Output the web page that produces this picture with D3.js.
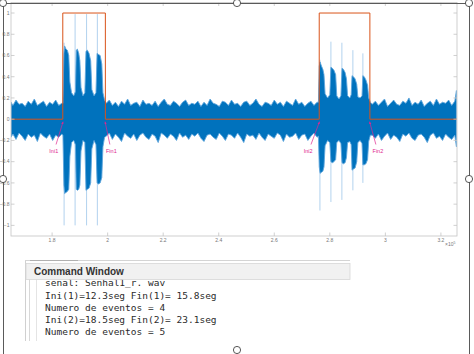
<!DOCTYPE html>
<html><head><meta charset="utf-8">
<script src="https://cdn.jsdelivr.net/npm/d3@7"></script>
<style>html,body{margin:0;padding:0;background:#fff;}svg{display:block;}</style>
</head><body>
<svg id="c" width="474" height="354"></svg>
<script>
// ---- DATA ----
const xTicks = [1.8, 2, 2.2, 2.4, 2.6, 2.8, 3, 3.2];           // x 10^5 samples
const yTicks = [-1, -0.8, -0.6, -0.4, -0.2, 0, 0.2, 0.4, 0.6, 0.8, 1];

// noise before first burst
const noiseAX = [1.652,1.659,1.670,1.681,1.692,1.703,1.714,1.725,1.736,1.747,1.758,1.769,1.780,1.791,1.802,1.813,1.824,1.835];
const noiseATop = [.16,.13,.18,.14,.15,.12,.17,.14,.19,.13,.15,.17,.12,.16,.14,.18,.13,.15];
const noiseABot = [-.17,-.14,-.19,-.13,-.16,-.2,-.14,-.17,-.15,-.21,-.13,-.16,-.18,-.14,-.2,-.15,-.17,-.14];

// burst 1 (4 events)
const burst1X = [1.839,1.8425,1.845,1.850,1.855,1.860,1.864,1.870,1.878,1.884,1.887,1.891,1.896,1.900,1.904,1.911,1.918,1.922,1.927,1.933,1.939,1.943,1.951,1.958,1.962,1.967,1.973,1.979,1.983,1.989];
const burst1Top = [.15,.62,.69,.66,.65,.60,.35,.25,.22,.26,.65,.66,.62,.55,.30,.22,.25,.64,.65,.62,.55,.28,.22,.25,.62,.61,.60,.52,.25,.18];
const burst1Bot = [-.15,-.62,-.70,-.69,-.68,-.66,-.35,-.22,-.20,-.24,-.66,-.67,-.66,-.62,-.30,-.20,-.22,-.67,-.66,-.65,-.60,-.28,-.20,-.24,-.60,-.61,-.60,-.55,-.26,-.17];

// noise between bursts
const noiseBX = [1.995,2.006,2.017,2.028,2.039,2.050,2.061,2.072,2.083,2.094,2.105,2.116,2.127,2.138,2.149,2.160,2.171,2.182,2.193,2.204,2.215,2.226,2.237,2.248,2.259,2.270,2.281,2.292,2.303,2.314,2.325,2.336,2.347,2.358,2.369,2.380,2.391,2.402,2.413,2.424,2.435,2.446,2.457,2.468,2.479,2.490,2.501,2.512,2.523,2.534,2.545,2.556,2.567,2.578,2.589,2.600,2.611,2.622,2.633,2.644,2.655,2.666,2.677,2.688,2.699,2.710,2.721,2.732,2.743,2.754];
const noiseBTop = [.15,.18,.13,.16,.12,.17,.14,.19,.13,.15,.16,.12,.18,.14,.15,.13,.17,.12,.16,.19,.14,.13,.17,.15,.12,.16,.18,.13,.15,.14,.17,.12,.16,.13,.19,.15,.14,.12,.17,.16,.13,.18,.14,.15,.12,.16,.17,.13,.15,.19,.14,.12,.16,.15,.13,.18,.14,.16,.12,.17,.15,.13,.19,.14,.16,.12,.15,.17,.13,.16];
const noiseBBot = [-.16,-.13,-.19,-.14,-.17,-.21,-.13,-.16,-.18,-.14,-.2,-.15,-.13,-.17,-.19,-.14,-.16,-.22,-.13,-.15,-.18,-.14,-.16,-.2,-.13,-.17,-.15,-.19,-.14,-.16,-.13,-.18,-.21,-.15,-.14,-.17,-.19,-.13,-.16,-.2,-.14,-.15,-.18,-.13,-.17,-.22,-.14,-.16,-.15,-.19,-.13,-.17,-.2,-.14,-.16,-.18,-.13,-.15,-.21,-.14,-.17,-.16,-.13,-.19,-.15,-.14,-.2,-.16,-.13,-.17];

// burst 2 (5 events)
const burst2X = [2.759,2.762,2.765,2.770,2.775,2.779,2.783,2.792,2.800,2.804,2.809,2.815,2.821,2.825,2.833,2.840,2.844,2.849,2.855,2.860,2.864,2.872,2.877,2.880,2.885,2.891,2.897,2.901,2.909,2.916,2.919,2.924,2.930,2.936,2.940,2.946];
const burst2Top = [.16,.50,.54,.50,.47,.42,.24,.20,.23,.49,.48,.46,.42,.22,.19,.22,.48,.47,.44,.38,.22,.20,.23,.41,.40,.38,.33,.21,.20,.22,.41,.40,.37,.32,.20,.16];
const burst2Bot = [-.16,-.45,-.51,-.50,-.49,-.45,-.25,-.20,-.22,-.40,-.41,-.40,-.38,-.22,-.20,-.23,-.41,-.42,-.41,-.36,-.22,-.21,-.24,-.48,-.47,-.46,-.40,-.22,-.20,-.23,-.43,-.43,-.42,-.38,-.21,-.15];

// noise after second burst
const noiseCX = [2.953,2.964,2.975,2.986,2.997,3.008,3.019,3.030,3.041,3.052,3.063,3.074,3.085,3.096,3.107,3.118,3.129,3.140,3.151,3.162,3.173,3.184,3.195,3.206,3.217,3.228,3.239,3.250,3.256];
const noiseCTop = [.14,.17,.13,.16,.19,.12,.15,.18,.14,.13,.17,.15,.20,.13,.16,.14,.18,.12,.15,.17,.13,.19,.14,.16,.15,.18,.13,.17,.27];
const noiseCBot = [-.15,-.18,-.14,-.2,-.16,-.13,-.19,-.15,-.17,-.21,-.14,-.16,-.13,-.18,-.2,-.15,-.14,-.17,-.22,-.15,-.13,-.18,-.16,-.2,-.14,-.17,-.19,-.15,-.26];

// thin peaks (few samples)
const spikeX = [1.8432,1.8828,1.9241,1.9630,2.7644,2.8040,2.8435,2.8831,2.9191];
const spikeTop = [.72,.99,.99,.99,.56,.73,.72,.65,.62];
const spikeBot = [-1.0,-1.0,-1.0,-1.0,-.86,-.78,-.76,-.67,-.60];

// detection window (orange)
const winX = [1.652,1.8385,1.8385,1.9918,1.9918,2.7619,2.7619,2.9443,2.9443,3.258];
const winY = [0,0,1,1,0,0,1,1,0,0];

// annotations
const annLabels = ["Ini1","Fin1","Ini2","Fin2"];
const annX = [1.8385,1.9918,2.7619,2.9443];

// command window text
const cmdLines = ["senal: Senhal1_r. wav","Ini(1)=12.3seg Fin(1)= 15.8seg","Numero de eventos = 4","Ini(2)=18.5seg Fin(2)= 23.1seg","Numero de eventos = 5"];

// ---- DRAW ----
const svg = d3.select("#c");
const x = d3.scaleLinear().domain([1.652, 3.258]).range([11, 457]);
const y = d3.scaleLinear().domain([-1.1, 1.1]).range([236, 2.4]);

const sigX = [].concat(noiseAX, burst1X, noiseBX, burst2X, noiseCX);
const sigTop = [].concat(noiseATop, burst1Top, noiseBTop, burst2Top, noiseCTop);
const sigBot = [].concat(noiseABot, burst1Bot, noiseBBot, burst2Bot, noiseCBot);
const idx = d3.range(sigX.length);

const plot = svg.append("g");
plot.append("defs").append("clipPath").attr("id","clip")
  .append("rect").attr("x",11).attr("y",2.4).attr("width",446).attr("height",233.6);
const pg = plot.append("g").attr("clip-path","url(#clip)");

// thin spikes (light)
pg.selectAll("line.spk").data(spikeX).join("line")
  .attr("x1", d=>x(d)).attr("x2", d=>x(d))
  .attr("y1", (d,i)=>y(spikeTop[i])).attr("y2", (d,i)=>y(spikeBot[i]))
  .attr("stroke","#a9cdec").attr("stroke-width",0.9);

const area = d3.area().x(i=>x(sigX[i])).y0(i=>y(sigBot[i])).y1(i=>y(sigTop[i]));
pg.append("path").attr("d", area(idx))
  .attr("fill","#0072BD").attr("stroke","#5fa6dc").attr("stroke-width",0.9);

// window line
const wl = d3.line().x(i=>x(winX[i])).y(i=>y(winY[i]));
pg.append("path").attr("d", wl(d3.range(winX.length)))
  .attr("fill","none").attr("stroke","#D95319").attr("stroke-width",1);

// axes box
const axc = "#c4c4c4";
plot.append("rect").attr("x",11).attr("y",2.4).attr("width",446).attr("height",233.6)
  .attr("fill","none").attr("stroke",axc).attr("stroke-width",0.8);
const tk = plot.append("g").attr("stroke",axc).attr("stroke-width",0.8);
xTicks.forEach(t=>{
  tk.append("line").attr("x1",x(t)).attr("x2",x(t)).attr("y1",236).attr("y2",232.5);
  tk.append("line").attr("x1",x(t)).attr("x2",x(t)).attr("y1",2.4).attr("y2",6);
});
yTicks.forEach(t=>{
  tk.append("line").attr("x1",11).attr("x2",14.5).attr("y1",y(t)).attr("y2",y(t));
  tk.append("line").attr("x1",457).attr("x2",453.5).attr("y1",y(t)).attr("y2",y(t));
});
const lab = plot.append("g").attr("font-family","Liberation Sans, Arial, sans-serif").attr("font-size",5).attr("fill","#777");
lab.selectAll("text.xt").data(xTicks).join("text")
  .attr("x",d=>x(d)).attr("y",242).attr("text-anchor","middle").text(d=>d3.format("~g")(d));
lab.selectAll("text.yt").data(yTicks).join("text")
  .attr("x",9.5).attr("y",d=>y(d)+1.8).attr("text-anchor","end").text(d=>d3.format("~g")(d));
const ex = lab.append("text").attr("x",445).attr("y",246);
ex.append("tspan").text("\u00d710");
ex.append("tspan").attr("dy",-2).attr("font-size",3.5).text("5");

// annotations
svg.append("defs").append("marker").attr("id","ah").attr("viewBox","0 0 10 10")
  .attr("refX",9).attr("refY",5).attr("markerWidth",4).attr("markerHeight",4).attr("orient","auto")
  .append("path").attr("d","M0,1L10,5L0,9Z").attr("fill","#e0268f");
const annDx = [-9, 6, -11, 8];
annLabels.forEach((l,i)=>{
  const tx = x(annX[i]);
  svg.append("line").attr("x1",tx+annDx[i]*0.75).attr("y1",144.5)
    .attr("x2",tx - Math.sign(annDx[i])*0.3).attr("y2",y(0)+2.5)
    .attr("stroke","#e0268f").attr("stroke-width",0.7).attr("marker-end","url(#ah)");
  svg.append("text").attr("x",tx+annDx[i]).attr("y",152.5).attr("text-anchor","middle")
    .attr("font-family","Liberation Sans, Arial, sans-serif").attr("font-size",5.5)
    .attr("fill","#e0268f").text(l);
});

// command window
const cw = svg.append("g");
cw.append("line").attr("x1",25).attr("x2",350).attr("y1",260.5).attr("y2",260.5).attr("stroke","#d4d4d4");
cw.append("line").attr("x1",30).attr("x2",78).attr("y1",260.5).attr("y2",260.5).attr("stroke","#b0b0b0");
cw.append("line").attr("x1",25.5).attr("x2",25.5).attr("y1",261).attr("y2",341).attr("stroke","#d0d0d0");
cw.append("line").attr("x1",29.5).attr("x2",29.5).attr("y1",278).attr("y2",341).attr("stroke","#d8d8d8");
cw.append("line").attr("x1",36.5).attr("x2",36.5).attr("y1",278).attr("y2",341).attr("stroke","#e4e4e4");
cw.selectAll("text.cl").data(cmdLines).join("text")
  .attr("x",45).attr("y",(d,i)=>286 + (i ? 13 + (i-1)*12 : 0)).attr("font-family","DejaVu Sans Mono, monospace")
  .attr("font-size",9.5).attr("fill","#2a2a2a").text(d=>d);
cw.append("rect").attr("x",26).attr("y",263.5).attr("width",324).attr("height",16)
  .attr("fill","#f1f1f1").attr("stroke","#d6d6d6").attr("stroke-width",0.8);
cw.append("text").attr("x",34).attr("y",274.5).attr("font-family","Liberation Sans, Arial, sans-serif")
  .attr("font-weight","bold").attr("font-size",10).attr("fill","#333").text("Command Window");

// picture frame + selection handles
const fr = svg.append("g").attr("stroke","#5a5a5a").attr("stroke-width",1).attr("fill","none");
fr.append("line").attr("x1",3.5).attr("x2",3.5).attr("y1",0).attr("y2",354);
fr.append("line").attr("x1",469.5).attr("x2",469.5).attr("y1",0).attr("y2",354);
fr.append("line").attr("x1",3).attr("x2",470).attr("y1",3.5).attr("y2",3.5);
const handles = [[3,3],[237,3],[469,3],[3,179],[469,179],[237,350]];
svg.selectAll("circle.h").data(handles).join("circle")
  .attr("cx",d=>d[0]).attr("cy",d=>d[1]).attr("r",3.6)
  .attr("fill","#fff").attr("stroke","#444").attr("stroke-width",0.9);
</script>
</body></html>
